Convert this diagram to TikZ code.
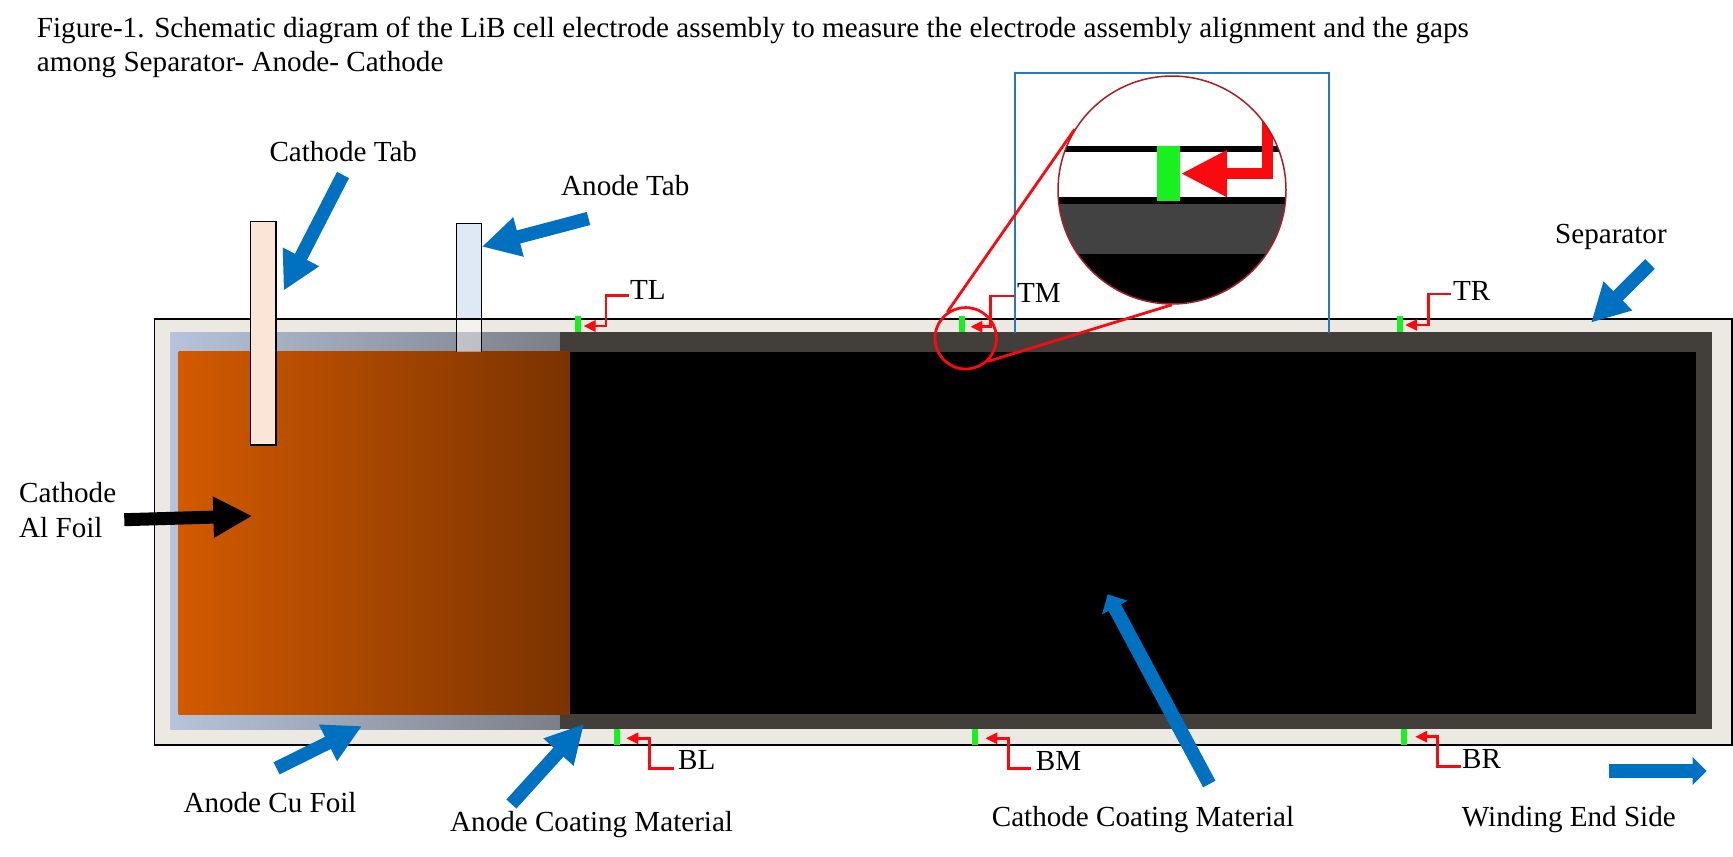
\documentclass[tikz,border=0pt]{standalone}
\usepackage{fontspec}
\setmainfont{Liberation Serif}
\usetikzlibrary{arrows.meta}
\definecolor{sepbeige}{HTML}{ECE9E3}
\definecolor{bandblue}{HTML}{B6C3DB}
\definecolor{bandgray}{HTML}{7C7F87}
\definecolor{banddark}{HTML}{423E3A}
\definecolor{foilA}{HTML}{D25A00}
\definecolor{foilB}{HTML}{7A3300}
\definecolor{bluearrow}{HTML}{0070C0}
\definecolor{boxblue}{HTML}{2E75B6}
\definecolor{markgreen}{HTML}{19F01F}
\definecolor{redc}{HTML}{FA0A0F}
\tikzset{
  capt/.style={anchor=base west,inner sep=0pt,font=\fontsize{29.15}{29.15}\selectfont},
  lab/.style={anchor=base west,inner sep=0pt,font=\fontsize{29.1}{29.1}\selectfont},
  bigarrow/.style={draw=bluearrow,line width=13.5pt,-{Triangle[length=38pt,width=38pt,fill=bluearrow]}},
  callout/.style={draw=redc,line width=2.8pt,-{Triangle[length=12pt,width=11pt,fill=redc]}},
  greenmark/.style={fill=markgreen,draw=none,inner sep=0pt,minimum width=6.3pt,minimum height=16pt},
}
\begin{document}
\begin{tikzpicture}[x=1pt,y=-1pt]
\useasboundingbox (0,0) rectangle (1733,857);
% cell layers
\fill[sepbeige] (154.6,319) rectangle (1732,745);
\shade[left color=bandblue,right color=bandgray] (170.4,332.3) rectangle (560,729.3);
\fill[banddark] (560,332.3) rectangle (1711.7,729.3);
\shade[left color=foilA,right color=foilB] (178.6,351.7) rectangle (569.6,714.3);
\fill[black] (569.6,351.7) rectangle (1696,714.3);
\draw[black,line width=1.4pt] (154.6,319) rectangle (1732,745);
% tabs
\fill[white,fill opacity=.45] (456.4,319) rectangle (481.4,351.7);
\draw[black,line width=1.4pt] (456.4,319) -- (456.4,351.7) (481.4,319) -- (481.4,351.7);
\draw[black,line width=1.4pt,fill={rgb,255:red,222;green,233;blue,245}] (456.4,223.3) rectangle (481.4,319);
\draw[black,line width=1.4pt,fill={rgb,255:red,251;green,229;blue,214}] (250.7,221.7) rectangle (276,445);
% zoom frame
\draw[boxblue,line width=1.5pt] (1015,333) -- (1015,73) -- (1329,73) -- (1329,333);
% green markers
\node[greenmark] (gTL) at (578.2,324.2) {};
\node[greenmark] (gTM) at (962,324.2) {};
\node[greenmark] (gTR) at (1399.8,324.2) {};
\node[greenmark] (gBL) at (617,737.2) {};
\node[greenmark] (gBM) at (975,737.2) {};
\node[greenmark] (gBR) at (1403.8,737.2) {};
% magnified circle
\node[circle,inner sep=0pt,minimum size=228pt,fill=white] (bigc) at (1172,190) {};
\begin{scope}
\clip (1172,190) circle[radius=114];
\fill[black] (1050,145.7) rectangle (1290,152.3);
\fill[black] (1050,196.7) rectangle (1290,204);
\fill[black!74] (1050,204) rectangle (1290,254);
\fill[black] (1050,254) rectangle (1290,310);
\fill[markgreen] (1156.7,145.7) rectangle (1180,200.7);
\coordinate (zStart) at (1267.8,110);
\coordinate (zBend) at (1267.8,173.6);
\coordinate (zTip) at (1181,173.6);
\draw[draw=redc,line width=11pt,-{Triangle[length=46pt,width=44pt,fill=redc]}] (zStart) -- (zBend) -- (zTip);
\end{scope}
\node[circle,inner sep=0pt,minimum size=228pt,draw={rgb,255:red,170;green,30;blue,35},line width=1.5pt] (bigframe) at (1172,190) {};
\node[circle,inner sep=0pt,minimum size=61.4pt,draw=redc,line width=2.8pt] (smallc) at (965.7,338.3) {};
\draw[redc,line width=2.8pt] (smallc.125) -- (bigframe.148);
\draw[redc,line width=2.8pt] (smallc.-46) -- (bigframe.-90);
% red callouts
\coordinate (tlEnd) at (628.6,295.7); \coordinate (tlBend) at (606,326);
\draw[callout] (tlEnd) -| (tlBend) -- ([xshift=2pt]gTL.east |- tlBend);
\coordinate (tmEnd) at (1015,296); \coordinate (tmBend) at (990.7,326.7);
\draw[callout] (tmEnd) -| (tmBend) -- ([xshift=5pt]gTM.east |- tmBend);
\coordinate (trEnd) at (1451,294); \coordinate (trBend) at (1428.3,325);
\draw[callout] (trEnd) -| (trBend) -- ([xshift=2pt]gTR.east |- trBend);
\coordinate (blEnd) at (673.5,768.3); \coordinate (blBend) at (649.4,738.3);
\draw[callout] (blEnd) -| (blBend) -- ([xshift=6pt]gBL.east |- blBend);
\coordinate (bmEnd) at (1030.7,768.3); \coordinate (bmBend) at (1008.3,738.3);
\draw[callout] (bmEnd) -| (bmBend) -- ([xshift=7pt]gBM.east |- bmBend);
\coordinate (brEnd) at (1460.7,766.7); \coordinate (brBend) at (1437.3,736.7);
\draw[callout] (brEnd) -| (brBend) -- ([xshift=8pt]gBR.east |- brBend);
% labels
\node[capt] (cap1) at (36.7,37.3) {Figure-1. Schematic diagram of the LiB cell electrode assembly to measure the electrode assembly alignment and the gaps};
\node[capt] (cap2) at (36.7,71.7) {among Separator- Anode- Cathode};
\node[lab] (lCT) at (269.3,161.7) {Cathode Tab};
\node[lab] (lAT) at (561,195.6) {Anode Tab};
\node[lab] (lSe) at (1555,243) {Separator};
\node[lab] (lCA1) at (19,502.7) {Cathode};
\node[lab] (lCA2) at (19,537.7) {Al Foil};
\node[lab] (lACu) at (183.3,812.7) {Anode Cu Foil};
\node[lab] (lACM) at (450,831.7) {Anode Coating Material};
\node[lab] (lCCM) at (991.7,826.7) {Cathode Coating Material};
\node[lab] (lWES) at (1461.7,826.7) {Winding End Side};
\node[lab] (lTL) at (630,299) {TL};
\node[lab] (lTM) at (1017,302.7) {TM};
\node[lab] (lTR) at (1453,300) {TR};
\node[lab] (lBL) at (678,769) {BL};
\node[lab] (lBM) at (1035.7,770) {BM};
\node[lab] (lBR) at (1462,768) {BR};
% block arrows
\coordinate (aCTs) at (343,175); \coordinate (aCTe) at (283.6,290.7);
\draw[bigarrow] (aCTs) -- (aCTe);
\coordinate (aATs) at (588.5,218.5); \coordinate (aATe) at (481.8,246.7);
\draw[bigarrow] (aATs) -- (aATe);
\coordinate (aSes) at (1650,264); \coordinate (aSee) at (1591,322.7);
\draw[bigarrow] (aSes) -- (aSee);
\coordinate (aCus) at (276.6,768.3); \coordinate (aCue) at (362,726);
\draw[bigarrow] (aCus) -- (aCue);
\coordinate (aCMs) at (511.4,804); \coordinate (aCMe) at (584,724);
\draw[bigarrow] (aCMs) -- (aCMe);
\coordinate (cCMs) at (1209.3,784); \coordinate (cCMe) at (1107.7,594.3);
\draw[draw=bluearrow,line width=14pt,-{Triangle[length=15pt,width=28pt,fill=bluearrow]}] (cCMs) -- (cCMe);
\coordinate (wEs) at (1609,771); \coordinate (wEe) at (1706.7,771);
\draw[draw=bluearrow,line width=14pt,-{Triangle[length=14pt,width=27pt,fill=bluearrow]}] (wEs) -- (wEe);
\coordinate (alS) at (124.3,519.7); \coordinate (alE) at (252.3,516);
\draw[draw=black,line width=13pt,-{Triangle[length=39pt,width=38.5pt,fill=black]}] (alS) -- (alE);
\end{tikzpicture}
\end{document}
